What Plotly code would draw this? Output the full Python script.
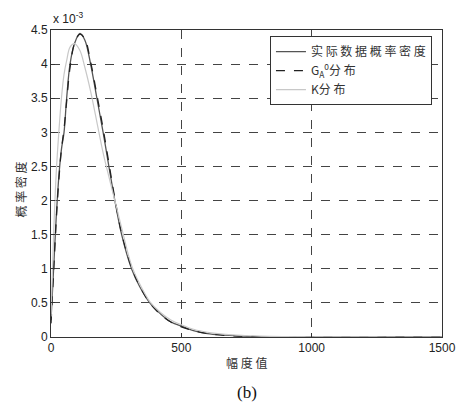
import plotly.graph_objects as go

# amplitude values
x_data = [0, 10, 20, 30, 40, 50, 60, 73, 90, 111, 130, 152, 176, 200, 222, 245, 271, 309, 340, 379, 420, 460, 500, 550, 600, 650, 700, 750, 800, 900, 1000, 1100, 1200, 1300, 1400, 1500]
# real data probability density (x 1e-3)
y_real = [0.25, 1.0, 1.75, 2.35, 2.75, 3.0, 3.5, 4.0, 4.3, 4.45, 4.35, 4.0, 3.5, 3.0, 2.5, 2.0, 1.5, 1.0, 0.74, 0.5, 0.34, 0.22, 0.16, 0.09, 0.05, 0.03, 0.02, 0.01, 0.006, 0.003, 0.002, 0.001, 0.001, 0.0, 0.0, 0.0]
# G_A^0 distribution
y_g0 = [0.2, 0.95, 1.7, 2.3, 2.75, 3.05, 3.45, 3.95, 4.3, 4.44, 4.37, 4.03, 3.55, 3.05, 2.55, 2.03, 1.52, 1.02, 0.75, 0.5, 0.33, 0.22, 0.15, 0.09, 0.05, 0.03, 0.018, 0.01, 0.006, 0.003, 0.002, 0.001, 0.001, 0.0, 0.0, 0.0]
# K distribution
y_k = [0.3, 1.5, 2.4, 3.0, 3.5, 3.85, 4.05, 4.25, 4.3, 4.2, 3.95, 3.6, 3.15, 2.7, 2.35, 2.0, 1.6, 1.05, 0.78, 0.52, 0.36, 0.25, 0.18, 0.11, 0.07, 0.045, 0.03, 0.02, 0.012, 0.006, 0.003, 0.002, 0.001, 0.0, 0.0, 0.0]

x_ticks = [0, 500, 1000, 1500]
y_ticks = [0, 0.5, 1, 1.5, 2, 2.5, 3, 3.5, 4, 4.5]
y_ticktext = ["0", "0.5", "1", "1.5", "2", "2.5", "3", "3.5", "4", "4.5"]

fig = go.Figure()
fig.add_trace(go.Scatter(x=x_data, y=y_real, mode="lines", name="实 际 数 据 概 率 密 度",
                         line=dict(color="#555555", width=1.3, shape="spline")))
fig.add_trace(go.Scatter(x=x_data, y=y_g0, mode="lines", name="G<sub>A</sub><sup>0</sup>分 布",
                         line=dict(color="#222222", width=1.3, dash="dash", shape="spline")))
fig.add_trace(go.Scatter(x=x_data, y=y_k, mode="lines", name="K分 布",
                         line=dict(color="#c8c8c8", width=1.2, shape="spline")))

axis_common = dict(showline=True, linecolor="#333333", linewidth=1, mirror=True,
                   ticks="inside", ticklen=4, tickcolor="#333333", automargin=False,
                   showgrid=True, gridcolor="#444444", griddash="dash", gridwidth=1,
                   zeroline=False, tickfont=dict(family="Liberation Sans, Arial", size=12, color="#222222"))

fig.update_xaxes(range=[0, 1500], tickvals=x_ticks, **axis_common)
fig.update_yaxes(range=[0, 4.5], tickvals=y_ticks, ticktext=y_ticktext, **axis_common)

fig.add_annotation(text="幅 度 值", xref="paper", yref="paper", x=0.5, y=-0.083,
                   xanchor="center", yanchor="middle", showarrow=False,
                   font=dict(family="Noto Sans CJK SC", size=12, color="#333333"))
fig.add_annotation(text="概 率 密 度", xref="paper", yref="paper", x=-0.077, y=0.48,
                   xanchor="center", yanchor="middle", showarrow=False, textangle=-90,
                   font=dict(family="Noto Sans CJK SC", size=12, color="#333333"))
fig.add_annotation(text="x 10<sup>-3</sup>", xref="paper", yref="paper", x=0.0, y=1.005,
                   xanchor="left", yanchor="bottom", showarrow=False,
                   font=dict(family="Liberation Sans, Arial", size=12, color="#222222"))
fig.add_annotation(text="(b)", xref="paper", yref="paper", x=0.5, y=-0.18,
                   xanchor="center", yanchor="middle", showarrow=False,
                   font=dict(family="Liberation Serif, Times New Roman", size=17, color="#111111"))

# page body adds an 8px offset; margins compensate so the plot area sits at x 51-442, y 30-337
fig.update_layout(
    width=474, height=420,
    margin=dict(l=43, r=40, t=22, b=91),
    paper_bgcolor="white", plot_bgcolor="white",
    showlegend=True,
    legend=dict(x=0.56, y=0.98, xanchor="left", yanchor="top",
                bgcolor="white", bordercolor="#333333", borderwidth=1,
                font=dict(family="Noto Sans CJK SC", size=12, color="#333333"),
                tracegroupgap=0),
)

fig.write_html("out.html")
